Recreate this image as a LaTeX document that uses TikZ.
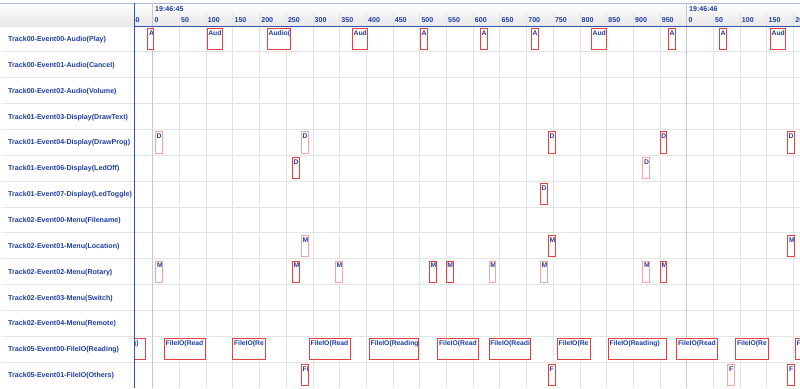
\documentclass[tikz,border=0pt]{standalone}
\usepackage{fontspec}
\setmainfont{Liberation Sans}

\definecolor{labelblue}{RGB}{30,62,160}
\definecolor{axisblue}{RGB}{48,84,176}
\definecolor{gridgray}{RGB}{228,228,228}
\definecolor{secgray}{RGB}{200,200,200}
\definecolor{headgray}{RGB}{232,232,234}
\definecolor{boxred}{RGB}{232,64,64}
\definecolor{boxpink}{RGB}{244,164,164}

\newcounter{evno}
% one event box: row, from, to, text, style
\newcommand{\evbox}[5]{%
  \stepcounter{evno}%
  \fill[white] (#2,{26+25.85*#1+2.3}) rectangle (#3,{26+25.85*#1+23.6});
  \begin{scope}
    \clip (#2,{26+25.85*#1+2.3}) rectangle (#3,{26+25.85*#1+23.6});
    \node[evtext] (ev\theevno) at ({#2+1.1},{26+25.85*#1+9.3}) {#4};
  \end{scope}
  \draw[#5] (#2,{26+25.85*#1+2.3}) rectangle (#3,{26+25.85*#1+23.6});
}

\begin{document}
\begin{tikzpicture}[x=1pt, y=-1pt,
    font=\fontsize{7.1}{8}\selectfont\bfseries,
    rowlabel/.style={anchor=base west, inner sep=0pt, text=labelblue},
    ticklabel/.style={anchor=base west, inner sep=0pt, text=labelblue},
    evtext/.style={anchor=base west, inner sep=0pt, text=labelblue,
        font=\fontsize{6.8}{8}\selectfont\bfseries},
    grid/.style={draw=gridgray, line width=0.8pt},
    secline/.style={draw=secgray, line width=0.8pt},
    axis/.style={draw=axisblue, line width=1pt},
    evred/.style={draw=boxred, line width=0.9pt},
    evpink/.style={draw=boxpink, line width=0.9pt}
]
    \useasboundingbox (0,0) rectangle (800,388);
    \fill[white] (0,0) rectangle (800,388);

    % header band
    \fill[top color=white, bottom color=headgray] (0,3) rectangle (800,26.5);
    \draw[draw=axisblue!40, line width=0.8pt] (0,3) -- (800,3);

    % row lines
    \foreach \r in {1,...,13}
        \draw[grid] (2,{26+25.85*\r}) -- (800,{26+25.85*\r});

    % time grid and tick labels
    \begin{scope}
        \clip (134.3,0) rectangle (800,388);
        \foreach \k in {-1,...,24} {
            \pgfmathtruncatemacro{\ms}{mod(\k+20,20)*50}
            \draw[grid] ({152.7+26.7*\k},13) -- ({152.7+26.7*\k},388);
            \node[ticklabel] (tick\k) at ({154.3+26.7*\k},22.3) {\ms};
        }
        \draw[secline] (152.7,3) -- (152.7,388);
        \draw[secline] (686.7,3) -- (686.7,388);
        \node[ticklabel] (sec45) at (155,11) {19:46:45};
        \node[ticklabel] (sec46) at (689,11) {19:46:46};
    \end{scope}

    % event boxes
    \begin{scope}
        \clip (134.3,26.5) rectangle (800,388);
        % Track00-Event00-Audio(Play)
        \foreach \a/\b/\t in {147.7/153.7/A, 207/222.3/Aud, 267.3/290.7/Audio(,
                352.3/367.7/Aud, 420.3/427.3/A, 480.3/487.7/A, 531.3/538.3/A,
                591.3/606.7/Aud, 668.3/675.3/A, 719.3/726.7/A, 770.3/785.7/Aud}
            \evbox{0}{\a}{\b}{\t}{evred};
        % Track01-Event04-Display(DrawProg)
        \foreach \a/\b in {155.3/162.7, 301.3/308.7}
            \evbox{4}{\a}{\b}{D}{evpink};
        \foreach \a/\b in {548.3/555.3, 660/666.7, 787.3/794.3}
            \evbox{4}{\a}{\b}{D}{evred};
        % Track01-Event06-Display(LedOff)
        \evbox{5}{292.3}{299.7}{D}{evred};
        \evbox{5}{642.7}{649.7}{D}{evpink};
        % Track01-Event07-Display(LedToggle)
        \evbox{6}{540.3}{547}{D}{evred};
        % Track02-Event01-Menu(Location)
        \evbox{8}{301.3}{308.3}{M}{evpink};
        \evbox{8}{548.3}{555.3}{M}{evred};
        \evbox{8}{787.7}{794.7}{M}{evred};
        % Track02-Event02-Menu(Rotary)
        \foreach \a/\b in {155.7/162.7, 335.3/342, 489/495.7, 540.3/547, 642.7/649.3}
            \evbox{9}{\a}{\b}{M}{evpink};
        \foreach \a/\b in {292.3/299.7, 429.3/436.3, 446/453.3, 660.3/666.7}
            \evbox{9}{\a}{\b}{M}{evred};
        % Track05-Event00-FileIO(Reading)
        \foreach \a/\b/\t in {87/145.3/FileIO(Reading), 164.3/205/FileIO(Read,
                232.7/265.3/FileIO(Re, 309.3/350.7/FileIO(Read, 369.3/418.7/FileIO(Reading,
                437.7/478.3/FileIO(Read, 489/530/FileIO(Readi, 557.3/590/FileIO(Re,
                608.3/666.7/FileIO(Reading), 676.7/717.7/FileIO(Read,
                735.7/768.3/FileIO(Re, 795.3/830/F}
            \evbox{12}{\a}{\b}{\t}{evred};
        % Track05-Event01-FileIO(Others)
        \evbox{13}{301.3}{308.7}{Fi}{evred};
        \evbox{13}{548.3}{555.3}{F}{evred};
        \evbox{13}{727.7}{734.3}{F}{evpink};
        \evbox{13}{787.7}{794.3}{F}{evred};
    \end{scope}

    % axis lines
    \draw[axis] (134.3,26.5) -- (800,26.5);
    \draw[axis] (134.3,3) -- (134.3,388);

    % row labels
    \foreach \r/\t in {0/{Track00-Event00-Audio(Play)}, 1/{Track00-Event01-Audio(Cancel)},
            2/{Track00-Event02-Audio(Volume)}, 3/{Track01-Event03-Display(DrawText)},
            4/{Track01-Event04-Display(DrawProg)}, 5/{Track01-Event06-Display(LedOff)},
            6/{Track01-Event07-Display(LedToggle)}, 7/{Track02-Event00-Menu(Filename)},
            8/{Track02-Event01-Menu(Location)}, 9/{Track02-Event02-Menu(Rotary)},
            10/{Track02-Event03-Menu(Switch)}, 11/{Track02-Event04-Menu(Remote)},
            12/{Track05-Event00-FileIO(Reading)}, 13/{Track05-Event01-FileIO(Others)}}
        \node[rowlabel] (row\r) at (8,{26+25.85*\r+15.5}) {\t};
\end{tikzpicture}
\end{document}
